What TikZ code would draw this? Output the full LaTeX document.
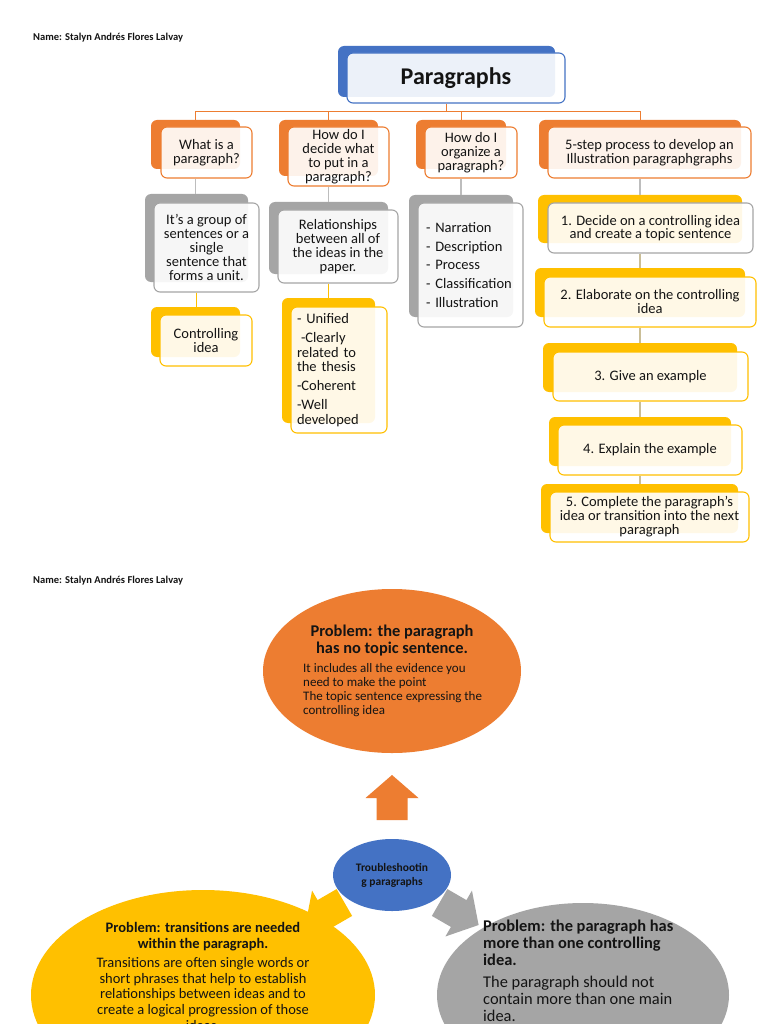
\documentclass[tikz,border=0pt]{standalone}
\usepackage{fontspec}
\setmainfont{Carlito}
\usepackage{xcolor}
\usetikzlibrary{shapes.geometric}
\definecolor{tileorange}{HTML}{ED7D31}
\definecolor{tilegrey}{HTML}{A5A5A5}
\definecolor{tilegold}{HTML}{FFC000}
\definecolor{tileblue}{HTML}{4472C4}
\definecolor{linkgrey}{HTML}{BDBDBD}
\newcommand{\fsz}[2]{\fontsize{#1}{#2}\selectfont}

\begin{document}
\begin{tikzpicture}[x=1pt,y=-1pt,
    every node/.style={inner sep=0pt, text=black!92},
    back/.style={rectangle, rounded corners=6pt},
    front/.style={rectangle, rounded corners=6pt, fill=white, fill opacity=0.9, text opacity=1, line width=1.1pt, align=center, font=\fsz{14.5}{14}},
    orange back/.style={back, fill=tileorange},
    orange front/.style={front, draw=tileorange},
    grey back/.style={back, fill=tilegrey},
    grey front/.style={front, draw=tilegrey},
    gold back/.style={back, fill=tilegold},
    gold front/.style={front, draw=tilegold},
    tree/.style={draw=tileorange, line width=1pt},
    blob/.style={ellipse, inner sep=0pt}]

    \path[use as bounding box, fill=white] (0,0) rectangle (768,1024);

    %% first page: the tree
    \node[font=\fsz{10.5}{12}\bfseries, anchor=west] (name1) at (33,38) {Name: Stalyn Andrés Flores Lalvay};

    \node[back, fill=tileblue, minimum width=217, minimum height=51] (T) at (446.5,71.5) {};
    \node[front, draw=tileblue, minimum width=218, minimum height=50, font=\fsz{24}{24}\bfseries] (T-t) at (456,78) {Paragraphs};

    \node[orange back, minimum width=89, minimum height=49] (A) at (195.5,144.5) {};
    \node[orange front, minimum width=91, minimum height=51] (A-t) at (206.5,152.5) {What is a\\paragraph?};
    \node[orange back, minimum width=99, minimum height=56] (B) at (328.5,148) {};
    \node[orange front, minimum width=101, minimum height=59] (B-t) at (338.5,156.5) {How do I\\decide what\\to put in a\\paragraph?};
    \node[orange back, minimum width=90, minimum height=49] (C) at (461,144.5) {};
    \node[orange front, minimum width=92, minimum height=51] (C-t) at (471,152.5) {How do I\\organize a\\paragraph?};
    \node[orange back, minimum width=202, minimum height=49] (D) at (640,144.5) {};
    \node[orange front, minimum width=203, minimum height=51] (D-t) at (649.5,152.5) {5-step process to develop an\\Illustration paragraphgraphs};

    \node[grey back, minimum width=103, minimum height=88] (GA) at (196.5,238) {};
    \node[grey front, minimum width=105, minimum height=89] (GA-t) at (206.5,247.5) {It's a group of\\sentences or a\\single\\sentence that\\forms a unit.};
    \node[grey back, minimum width=119, minimum height=72] (GB) at (328.5,238) {};
    \node[grey front, minimum width=120, minimum height=73, font=\fsz{14.5}{14.2}] (GB-t) at (338,246.5) {Relationships\\between all of\\the ideas in the\\paper.};
    \node[grey back, minimum width=104, minimum height=122] (GC) at (461,256) {};
    \node[grey front, minimum width=105, minimum height=124, text width=89, align=left] (GC-t) at (470.5,265)
        {- Narration\\[4.75pt]- Description\\[4.75pt]- Process\\[4.75pt]- Classification\\[4.75pt]- Illustration};

    \node[gold back, minimum width=89, minimum height=50] (YA) at (195.5,332) {};
    \node[gold front, minimum width=92, minimum height=51] (YA-t) at (206,340.5) {Controlling\\idea};
    \node[gold back, minimum width=93, minimum height=125] (YB) at (328.5,360.5) {};
    \node[gold front, minimum width=96, minimum height=126, text width=84, align=left, font=\fsz{14.5}{14.5}] (YB-t) at (339,370)
        {- Unified\\[4.5pt]\hspace{4pt}-Clearly\\related to\\the thesis\\[4.5pt]-Coherent\\[4.5pt]-Well\\developed};

    \node[gold back, minimum width=204, minimum height=48] (S1) at (640,219) {};
    \node[front, draw=tilegrey, minimum width=205, minimum height=50, font=\fsz{14.5}{13.5}] (S1-t) at (650.5,228) {1. Decide on a controlling idea\\and create a topic sentence};
    \node[gold back, minimum width=210, minimum height=49] (S2) at (640,292.5) {};
    \node[gold front, minimum width=212, minimum height=50] (S2-t) at (650,302) {2. Elaborate on the controlling\\idea};
    \node[gold back, minimum width=194, minimum height=49] (S3) at (640,367.5) {};
    \node[gold front, minimum width=195, minimum height=49] (S3-t) at (650.5,376.5) {3. Give an example};
    \node[gold back, minimum width=182, minimum height=49] (S4) at (640,441.5) {};
    \node[gold front, minimum width=184, minimum height=50] (S4-t) at (650,450) {4. Explain the example};
    \node[gold back, minimum width=197, minimum height=49] (S5) at (639.5,508.5) {};
    \node[gold front, minimum width=199, minimum height=50] (S5-t) at (649.5,517) {5. Complete the paragraph’s\\idea or transition into the next\\paragraph};

    \draw[tree] (T-t.south -| T) -- ++(0,8) coordinate (fork);
    \draw[tree] (fork) -| (A.north);
    \draw[tree] (fork) -| (B.north);
    \draw[tree] (fork) -| (C.north);
    \draw[tree] (fork) -| (D.north);

    \path[every edge/.style={draw=linkgrey, line width=1.2pt}]
    (A-t.south -| A) edge (GA.north -| A)
    (B-t.south -| B) edge (GB.north -| B)
    (C-t.south -| C) edge (GC.north -| C)
    (D-t.south -| D) edge (S1.north -| D);

    \path[every edge/.style={draw=tilegold, line width=1.2pt}]
    (GA-t.south -| GA) edge (YA.north -| GA)
    (GB-t.south -| GB) edge (YB.north -| GB);

    \path[every edge/.style={draw=tilegold!20!linkgrey, line width=1.2pt}]
    (S1-t.south -| S1) edge (S2.north -| S1)
    (S2-t.south -| S2) edge (S3.north -| S2)
    (S3-t.south -| S3) edge (S4.north -| S3)
    (S4-t.south -| S4) edge (S5.north -| S4);

    %% second page: troubleshooting
    \node[font=\fsz{10.5}{12}\bfseries, anchor=west] (name2) at (33,581) {Name: Stalyn Andrés Flores Lalvay};

    \node[blob, fill=tileblue, minimum width=118, minimum height=72, align=center, font=\fsz{11.5}{14}\bfseries] (hub) at (392,875) {Troubleshootin\\g paragraphs};

    \begin{scope}[shift={(hub)}]
      \fill[tileorange] (-15.5,-55) -- (-15.5,-77) -- (-26.5,-77) -- (0,-100) -- (26.5,-77) -- (15.5,-77) -- (15.5,-55) -- cycle;
      \fill[tilegold, rotate=120] (-15.5,-55) -- (-15.5,-77) -- (-26.5,-77) -- (0,-100) -- (26.5,-77) -- (15.5,-77) -- (15.5,-55) -- cycle;
      \fill[tilegrey, rotate=-120] (-15.5,-55) -- (-15.5,-77) -- (-26.5,-77) -- (0,-100) -- (26.5,-77) -- (15.5,-77) -- (15.5,-55) -- cycle;
    \end{scope}

    \node[blob, fill=tileorange, minimum width=258, minimum height=164] (top) at (392,671) {};
    \node[font=\fsz{16.4}{17}\bfseries, align=center] (top-h) at (392,640.5) {Problem: the paragraph\\has no topic sentence.};
    \node[font=\fsz{13}{14}, align=left, anchor=west] (top-b) at (303,690) {It includes all the evidence you\\need to make the point\\The topic sentence expressing the\\controlling idea};

    \node[blob, fill=tilegold, minimum width=344, minimum height=210] (left) at (203,995) {};
    \node[font=\fsz{14.5}{16}\bfseries, align=center] (left-h) at (203,937) {Problem: transitions are needed\\within the paragraph.};
    \node[font=\fsz{14.5}{15.75}, align=center, anchor=north] (left-b) at (203,957) {Transitions are often single words or\\short phrases that help to establish\\relationships between ideas and to\\create a logical progression of those\\ideas.};

    \node[blob, fill=tilegrey, minimum width=292, minimum height=184] (right) at (583,995) {};
    \node[font=\fsz{16.4}{17}\bfseries, align=left, anchor=west] (right-h) at (483,943) {Problem: the paragraph has\\more than one controlling\\idea.};
    \node[font=\fsz{16.4}{17}, align=left, anchor=west] (right-b) at (483,999) {The paragraph should not\\contain more than one main\\idea.};

\end{tikzpicture}
\end{document}
